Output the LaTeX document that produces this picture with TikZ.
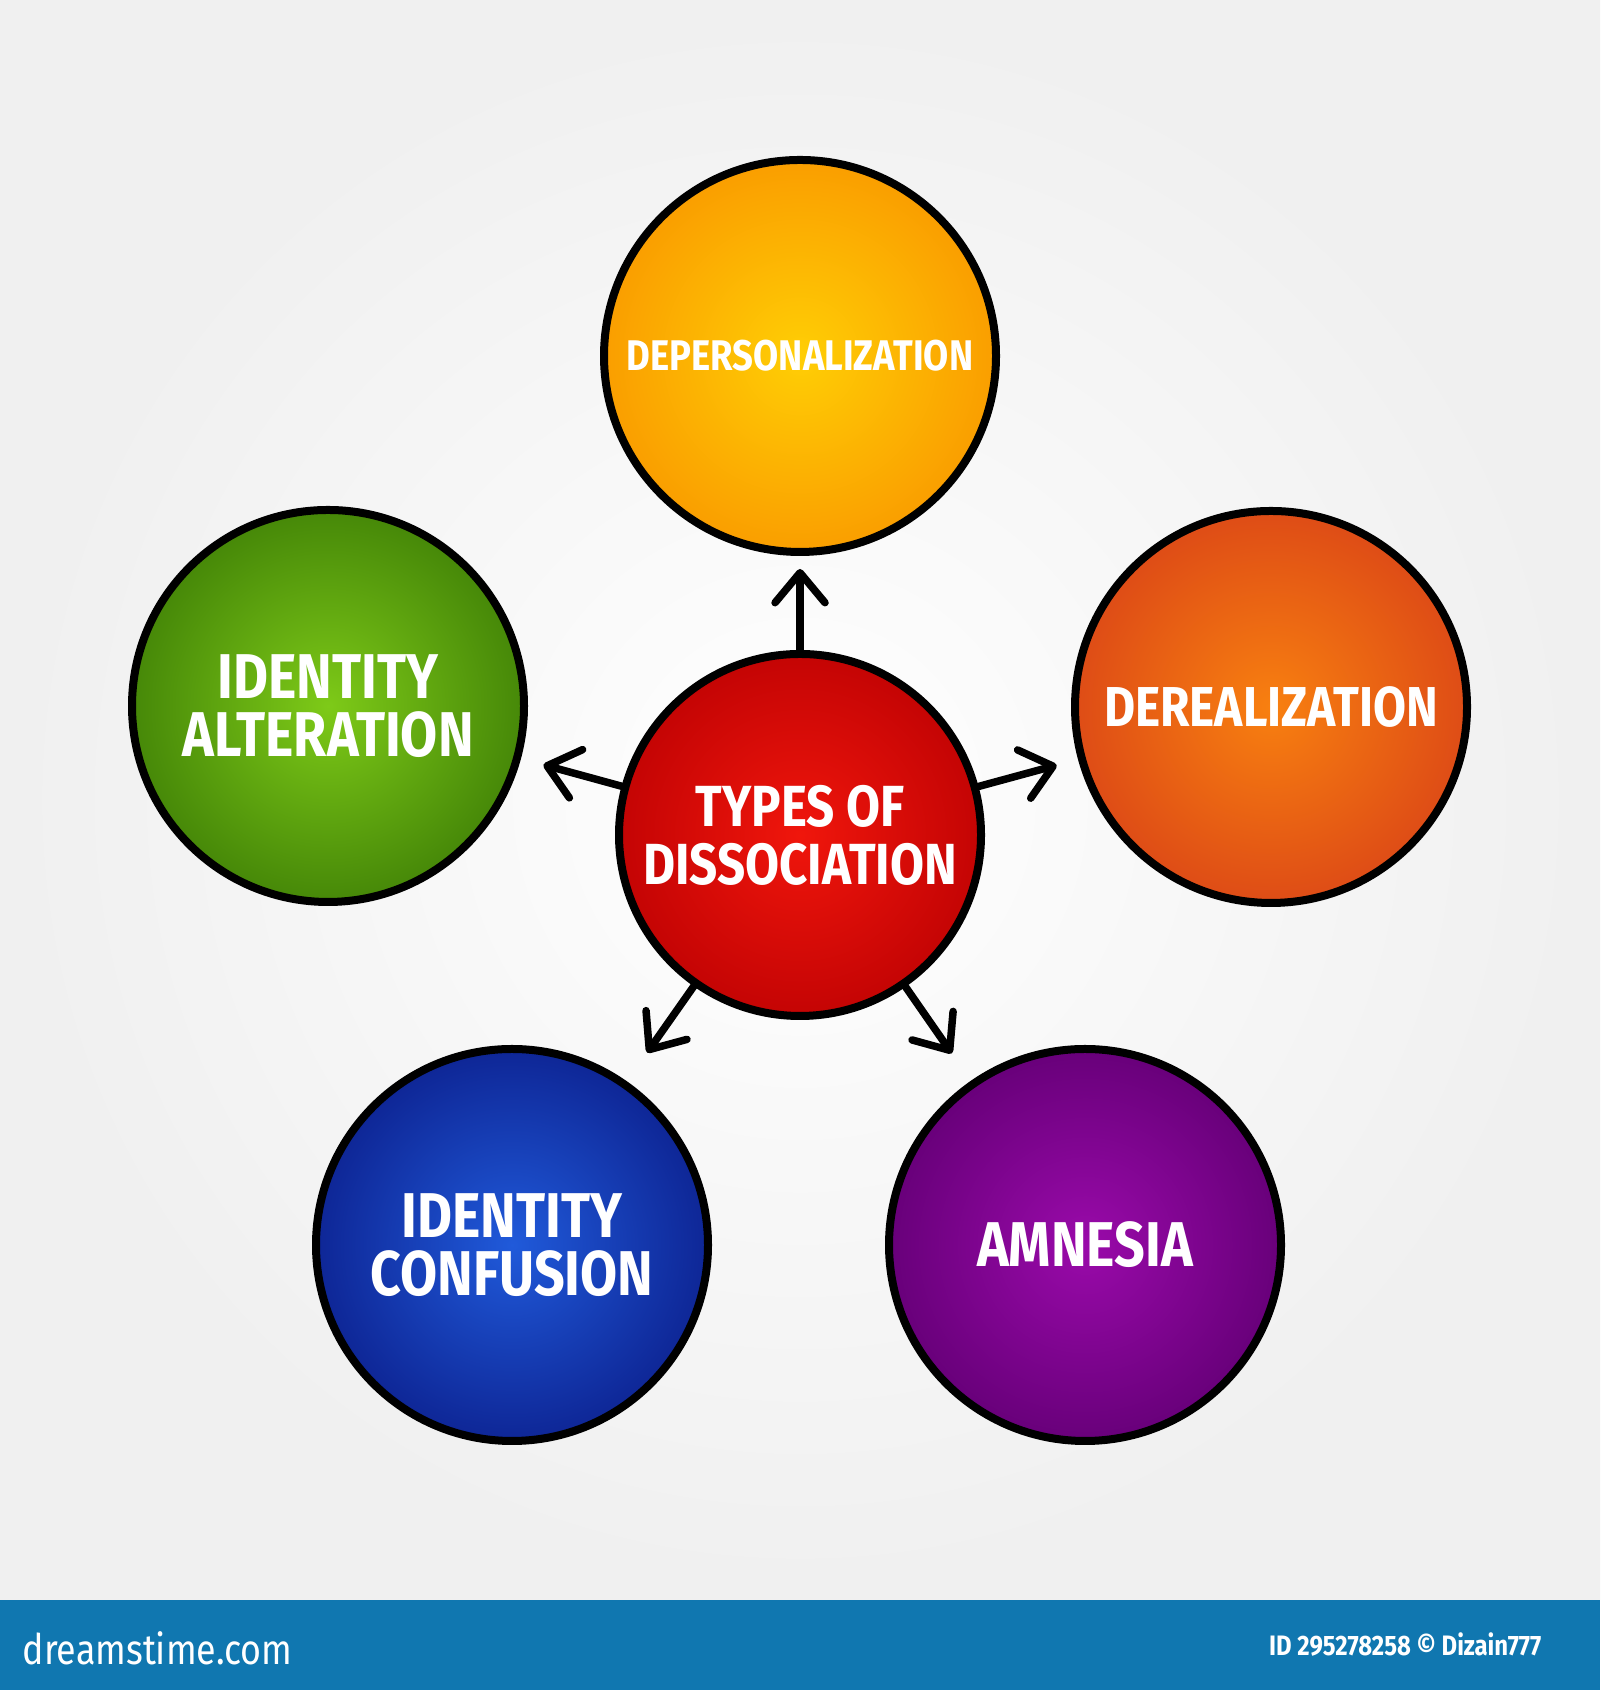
\documentclass[tikz,border=0pt]{standalone}
\usepackage{fontspec}
\newfontfamily\hand[FakeStretch=0.85]{Fira Sans}
\usetikzlibrary{arrows.meta,calc}

\definecolor{barblue}{RGB}{16,119,176}

\tikzset{
  bubble/.style={draw, circle, line width=0.08cm, minimum size=3.92cm, inner sep=0pt,
    text=white, align=center, font=\hand\bfseries\fontsize{18}{16.5}\selectfont},
  arr/.style={-{Straight Barb[length=0.3cm, width=0.5cm, line cap=round, line join=round]},
    line width=0.075cm, line cap=round},
  foot/.style={text=white, inner sep=0pt}
}

\begin{document}
\begin{tikzpicture}
    % page size, soft background and the footer bar
    \useasboundingbox (0,0) rectangle (16,16.9);
    \shade[inner color=white, outer color=black!6] (0,0.9) rectangle (16,16.9);
    \fill[barblue] (0,0) rectangle (16,0.9);

    % the middle node
    \node[bubble, minimum size=3.62cm, inner color={rgb,255:red,240;green,22;blue,12},
      outer color={rgb,255:red,196;green,4;blue,4},
      font=\hand\bfseries\fontsize{16.5}{16.5}\selectfont] (t) at (8,8.55) {TYPES OF\\DISSOCIATION};

    % the five outer nodes
    \node[bubble, inner color={rgb,255:red,255;green,206;blue,5},
      outer color={rgb,255:red,250;green,158;blue,0},
      font=\hand\bfseries\fontsize{12.2}{14}\selectfont] (c1) at (8,13.34) {DEPERSONALIZATION};
    \node[bubble, inner color={rgb,255:red,248;green,128;blue,16},
      outer color={rgb,255:red,222;green,76;blue,22},
      font=\hand\bfseries\fontsize{16}{14}\selectfont] (c2) at (12.71,9.83) {DEREALIZATION};
    \node[bubble, inner color={rgb,255:red,126;green,202;blue,24},
      outer color={rgb,255:red,70;green,136;blue,8}] (c3) at (3.28,9.84) {IDENTITY\\ALTERATION};
    \node[bubble, inner color={rgb,255:red,32;green,90;blue,218},
      outer color={rgb,255:red,14;green,38;blue,150}] (c4) at (5.12,4.45) {IDENTITY\\CONFUSION};
    \node[bubble, inner color={rgb,255:red,154;green,10;blue,170},
      outer color={rgb,255:red,104;green,0;blue,122}] (c5) at (10.85,4.45) {AMNESIA};

    % arrows from the middle node towards each outer node
    \foreach \k in {1,...,5} {
      \coordinate (a\k) at ($(t)!2.66cm!(c\k)$);
      \draw[arr] (t) -- (a\k);
    }

    % footer texts
    \node[foot, anchor=base west, font=\hand\fontsize{12}{14}\selectfont] (site) at (0.22,0.26) {dreamstime.com};
    \node[foot, anchor=base east, font=\hand\bfseries\fontsize{8}{10}\selectfont] (id) at (15.42,0.34) {ID 295278258 © Dizain777};

\end{tikzpicture}
\end{document}
